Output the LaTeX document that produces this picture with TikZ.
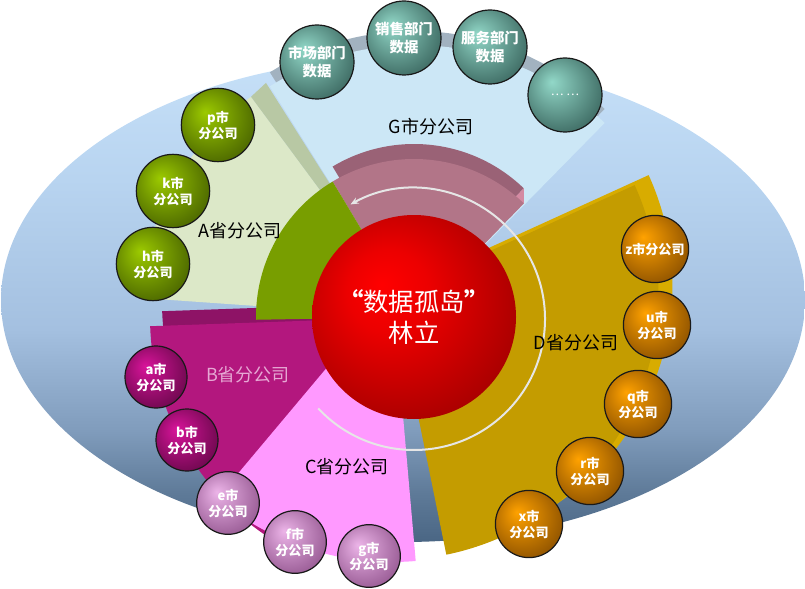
\documentclass[tikz,border=0pt]{standalone}
\usepackage{fontspec}
\setmainfont{Noto Sans CJK SC}
\usetikzlibrary{arrows.meta}
% colours
\definecolor{ell0}{HTML}{4A6684}
\definecolor{ell1}{HTML}{5E7A98}
\definecolor{ell2}{HTML}{809CBC}
\definecolor{ell3}{HTML}{A4C0E0}
\definecolor{ell4}{HTML}{B8D4F0}
\definecolor{ell5}{HTML}{C6E0F8}
\definecolor{gface}{HTML}{CCE7F6}
\definecolor{grim}{HTML}{A2B2C0}
\definecolor{aface}{HTML}{DCE8C8}
\definecolor{astrip}{HTML}{B8C8A4}
\definecolor{btop}{HTML}{8E1366}
\definecolor{bface}{HTML}{B3177E}
\definecolor{mtop}{HTML}{9A6276}
\definecolor{mface}{HTML}{B27588}
\definecolor{mbevel}{HTML}{D48AA2}
\definecolor{ggreen}{HTML}{789E00}
\definecolor{cface}{HTML}{FF99FF}
\definecolor{drim}{HTML}{D8AC00}
\definecolor{dface}{HTML}{C49C00}
\definecolor{ringc}{HTML}{E6E6E6}
\definecolor{blabel}{HTML}{E6A8D4}
\definecolor{rb0}{HTML}{FF0000}
\definecolor{rb1}{HTML}{EC0000}
\definecolor{rb2}{HTML}{950000}
\definecolor{g0}{HTML}{92D8C8}
\definecolor{g1}{HTML}{2E5650}
\definecolor{a0}{HTML}{9CCA00}
\definecolor{a1}{HTML}{3C5400}
\definecolor{b0}{HTML}{D8149A}
\definecolor{b1}{HTML}{5A0640}
\definecolor{c0}{HTML}{ECB4E8}
\definecolor{c1}{HTML}{884A84}
\definecolor{d0}{HTML}{FFA200}
\definecolor{d1}{HTML}{7A4400}
% shadings
\pgfdeclareverticalshading{ellsh}{100bp}{color(0bp)=(ell0); color(25bp)=(ell0); color(30bp)=(ell1); color(36.5bp)=(ell2); color(47bp)=(ell3); color(62.5bp)=(ell4); color(75bp)=(ell5); color(100bp)=(ell5)}
\pgfdeclareradialshading{redball}{\pgfpoint{-8bp}{8bp}}{color(0bp)=(rb0); color(10bp)=(rb1); color(36bp)=(rb2); color(50bp)=(rb2)}
\pgfdeclareradialshading{gsh}{\pgfpoint{-9bp}{9bp}}{color(0bp)=(g0); color(37bp)=(g1); color(50bp)=(g1)}
\pgfdeclareradialshading{ash}{\pgfpoint{-9bp}{9bp}}{color(0bp)=(a0); color(37bp)=(a1); color(50bp)=(a1)}
\pgfdeclareradialshading{bsh}{\pgfpoint{-9bp}{9bp}}{color(0bp)=(b0); color(37bp)=(b1); color(50bp)=(b1)}
\pgfdeclareradialshading{csh}{\pgfpoint{-9bp}{9bp}}{color(0bp)=(c0); color(37bp)=(c1); color(50bp)=(c1)}
\pgfdeclareradialshading{dsh}{\pgfpoint{-9bp}{9bp}}{color(0bp)=(d0); color(37bp)=(d1); color(50bp)=(d1)}
\tikzset{
  ballbase/.style={circle, draw=black!90, line width=0.9pt, inner sep=0pt,
    text=white, align=center, font=\fontsize{9.8}{12}\selectfont\bfseries},
  gball/.style={ballbase, shading=gsh, minimum size=55.5pt,
    font=\fontsize{10.8}{13}\selectfont\bfseries},
  aball/.style={ballbase, shading=ash, minimum size=55pt},
  bball/.style={ballbase, shading=bsh, minimum size=46.5pt},
  cball/.style={ballbase, shading=csh, minimum size=47pt},
  dball/.style={ballbase, shading=dsh, minimum size=50.4pt},
  sectlabel/.style={font=\fontsize{13.5}{16}\selectfont, text=black, inner sep=0pt},
  ringline/.style={draw=ringc, line width=1.5pt},
}
\begin{document}
\begin{tikzpicture}[x=0.75pt, y=-0.75pt]
\useasboundingbox (0,0) rectangle (805,588);
% centres
\coordinate (O1) at (414,317);
\coordinate (O2) at (392,290);
\coordinate (Grim) at (414,303);
\coordinate (Btop) at (426,302);
\coordinate (Mtop) at (414,302);
\coordinate (Dtop) at (407.5,285);
\coordinate (Dfc) at (393.5,295);
\coordinate (Rc) at (414,319);
% background ellipse
\shade[shading=ellsh] (403,300) ellipse [x radius=402, y radius=242];
% G sector
\fill[grim] (Grim) -- ++(-45.5:272) arc[start angle=-45.5, end angle=-122, radius=272] -- cycle;
\fill[gface] (O1) -- ++(-45.5:272) arc[start angle=-45.5, end angle=-122, radius=272] -- cycle;
% A sector
\fill[aface] (O1) -- ++(-126.5:274) arc[start angle=-126.5, end angle=-176, radius=274] -- cycle;
\fill[astrip] (O1) -- ([shift={(-126.5:274)}]O1) -- ([shift={(-122.3:277)}]O1) -- cycle;
% B sector
\fill[btop] (Btop) -- ++(-182:264) arc[start angle=-182, end angle=-240, radius=264] -- cycle;
\fill[bface] (O1) -- ++(-182:264) arc[start angle=-182, end angle=-240, radius=264] -- cycle;
% inner mauve and green
\fill[mtop] (Mtop) -- ++(-46:158) arc[start angle=-46, end angle=-121, radius=158] -- cycle;
\fill[mbevel] ([shift={(-46:158)}]Mtop) -- ([shift={(-46:158)}]O1) -- ([shift={(-46:138)}]O1) -- ([shift={(-46:138)}]Mtop) -- cycle;
\fill[mface] (O1) -- ++(-46:158) arc[start angle=-46, end angle=-121, radius=158] -- cycle;
\fill[ggreen] (O1) -- ++(-121:158) arc[start angle=-121, end angle=-181, radius=158] -- cycle;
% C sector
\fill[cface] (O2) -- ++(-230:272) arc[start angle=-230, end angle=-275, radius=272] -- cycle;
% D sector
\fill[drim] (Dtop) -- ++(78.5:265) arc[start angle=78.5, end angle=-24.5, radius=265] -- cycle;
\fill[dface] (Dfc) -- ++(78.5:265) arc[start angle=78.5, end angle=-24.5, radius=265] -- cycle;
% ring with arrow
\draw[ringline, -{Stealth[length=6pt,width=5pt]}] (Rc) ++(137:131) arc[start angle=137, end angle=-119, radius=131];
% central red ball
\node[circle, minimum size=153pt, inner sep=0pt, shading=redball, text=white, align=center,
  font=\fontsize{19}{23}\selectfont] (hub) at (414,317) {{\bfseries “}数据孤岛{\bfseries ”}\\林立};
% G circles
\node[gball] (g1) at (317,62) {市场部门\\数据};
\node[gball] (g2) at (404,38) {销售部门\\数据};
\node[gball] (g3) at (490,47) {服务部门\\数据};
\node[gball, font=\fontsize{9}{11}\selectfont] (g4) at (565,95) {… …};
% A circles
\node[aball] (ap) at (218,125) {p市\\分公司};
\node[aball] (ak) at (173,191) {k市\\分公司};
\node[aball] (ah) at (153,264) {h市\\分公司};
% B circles
\node[bball] (ba) at (156,377) {a市\\分公司};
\node[bball] (bb) at (187,440) {b市\\分公司};
% C circles
\node[cball] (ce) at (228,503) {e市\\分公司};
\node[cball] (cf) at (295,542) {f市\\分公司};
\node[cball] (cg) at (369,556) {g市\\分公司};
% D circles
\node[dball] (dz) at (655,249) {z市分公司};
\node[dball] (du) at (657,325) {u市\\分公司};
\node[dball] (dq) at (638,404) {q市\\分公司};
\node[dball] (dr) at (590,471) {r市\\分公司};
\node[dball] (dx) at (529,524) {x市\\分公司};
% sector labels
\node[sectlabel] (lg) at (431,127) {G市分公司};
\node[sectlabel] (la) at (240,231) {A省分公司};
\node[sectlabel, text=blabel] (lb) at (248,375) {B省分公司};
\node[sectlabel] (lc) at (347,467) {C省分公司};
\node[sectlabel] (ld) at (576,343) {D省分公司};
\end{tikzpicture}
\end{document}
